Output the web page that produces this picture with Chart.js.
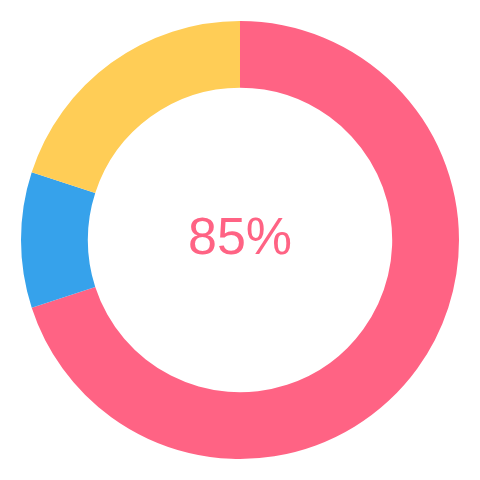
<!DOCTYPE html>
<html>
<head>
<meta charset="utf-8">
<script src="https://cdn.jsdelivr.net/npm/chart.js@4"></script>
<style>
  html, body { margin: 0; padding: 0; background: #fff; }
  #wrap { width: 480px; height: 480px; }
</style>
</head>
<body>
<div id="wrap"><canvas id="chart"></canvas></div>
<script>
// ─── Data ───────────────────────────────────────────
const labels = ['Red', 'Blue', 'Yellow'];
const values = [70, 10, 20];
const colors = ['#FF6384', '#36A2EB', '#FFCD56'];
const centerLabel = '85%';

// ─── Center text plugin ─────────────────────────────
const centerText = {
  id: 'centerText',
  afterDraw(chart) {
    const { ctx } = chart;
    const meta = chart.getDatasetMeta(0).data[0];
    ctx.save();
    ctx.font = '52px "Liberation Sans", Arial, sans-serif';
    ctx.fillStyle = '#FF6384';
    ctx.textAlign = 'center';
    ctx.textBaseline = 'middle';
    ctx.fillText(centerLabel, meta.x, meta.y);
    ctx.restore();
  }
};

new Chart(document.getElementById('chart'), {
  type: 'doughnut',
  data: {
    labels,
    datasets: [{ data: values, backgroundColor: colors, borderWidth: 0 }]
  },
  options: {
    responsive: true,
    maintainAspectRatio: false,
    animation: false,
    cutout: '69.5%',
    layout: { padding: 21 },
    plugins: { legend: { display: false }, tooltip: { enabled: false } }
  },
  plugins: [centerText]
});
</script>
</body>
</html>
